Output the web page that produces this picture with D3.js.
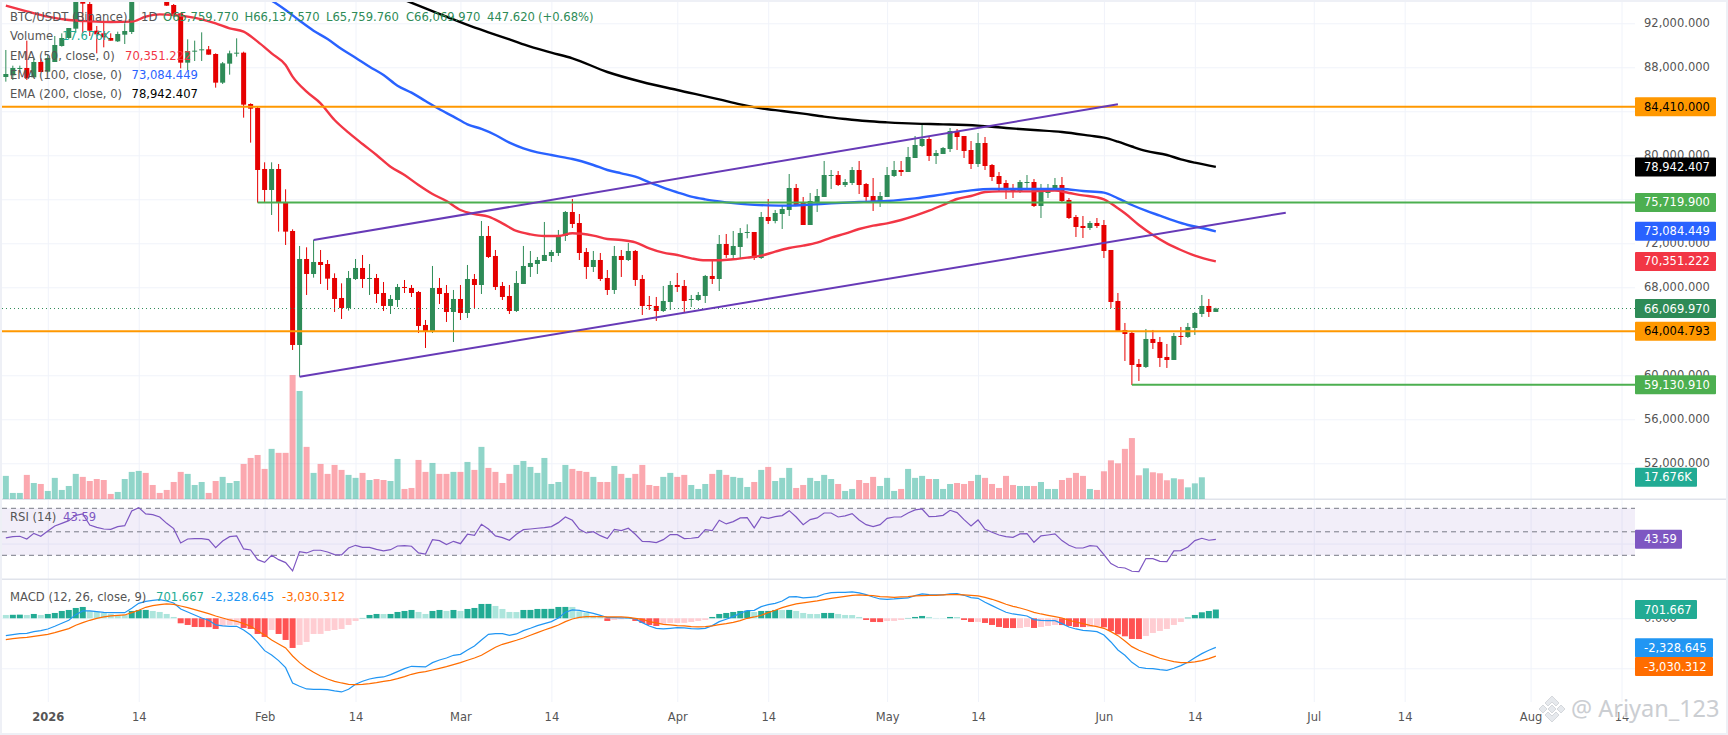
<!DOCTYPE html>
<html>
<head>
<meta charset="utf-8">
<script src="https://cdn.jsdelivr.net/npm/d3@7"></script>
<style>
  html, body { margin: 0; padding: 0; background: #eef0f6; overflow: hidden; }
  svg { display: block; font-family: "DejaVu Sans", sans-serif; }
  .tick text { fill: #555; font-size: 11.5px; font-family: "DejaVu Sans", sans-serif; }
  .tick line { stroke: #f0f3fa; }
  .domain { display: none; }
</style>
</head>
<body>
<svg id="chart"></svg>
<script>
const width = 1728
const height = 735

// daily candles, first one is 26 Dec 2025 (rows of ten)
const opens = [
  87119,87270,87876,87937,87088,88482,87603,88482,89937,90664,
  91512,93936,93754,91330,91088,90664,90361,90967,91209,94100,
  96400,95500,95300,93997,93664,92906,88422,89421,89573,89634,
  89209,86604,88331,89240,89330,84664,84301,78756,76847,78756,
  75756,73119,62757,70574,69210,70301,70119,68847,67029,66120,
  68756,69756,68786,68847,67483,66302,66847,68029,67938,67574,
  64574,63938,67938,67483,65756,66938,65665,68756,68210,72665,
  70847,68120,67211,65847,68301,69847,70119,70392,70847,71119,
  72665,74846,73846,71210,69846,70483,68847,67756,70847,70483,
  71301,68756,66392,66302,65847,66665,68210,68120,66847,66847,
  67211,69029,68756,71937,70938,71665,72968,73028,70665,74392,
  74028,74664,75028,77028,75664,73664,75755,76210,78118,78209,
  77300,77482,78664,77391,76300,75664,76210,78118,78664,78482,
  79755,80846,81482,79937,80118,80573,82209,81755,80482,79209,
  81118,79118,78118,77482,77028,76755,77482,77573,75392,76573,
  76937,77300,75937,74392,73574,73392,73846,73664,71392,66756,
  64120,63847,61029,60757,63302,63029,61666,61393,63575,63484,
  64302,65575,66302,65759.77
]
const highs = [
  89573,88149,88149,90421,88815,88815,89118,90846,91088,91573,
  94057,94400,94300,91755,92148,91088,91240,91997,94600,97200,
  97000,96000,95600,94200,93754,92906,90543,90421,91179,89937,
  89270,88482,89512,90633,89420,84724,84420,79362,79362,79210,
  76908,73271,71756,71634,72301,71392,70483,69271,68362,69483,
  70574,70938,70119,69210,68483,67302,68301,68665,68210,67665,
  65029,69938,68847,68210,67756,68210,70029,69210,74028,73574,
  71392,68483,68210,69483,71756,71301,70756,73937,71392,73210,
  74937,76028,74664,71574,71301,71119,69574,71756,71392,72028,
  71392,69120,67211,67120,68120,68574,69301,68665,67302,67574,
  69120,70392,72755,72846,73119,73392,73725,73028,74846,76028,
  75028,75482,78300,77391,76210,76573,76937,79482,78664,78573,
  77846,78937,79482,77482,77937,76664,78937,79482,79482,80755,
  81755,82845,81664,80482,80755,82482,82391,81755,81300,82027,
  81664,79209,78482,77755,77391,77755,78209,77846,77391,77391,
  77937,78028,76119,74573,74483,74028,74300,74119,71392,67483,
  64756,63938,61484,64211,64120,63484,62847,63847,64393,64756,
  65756,67302,66938,66137.57
]
const lows = [
  86694,86846,87513,86846,87088,87573,87543,88482,89876,90543,
  91149,91088,90846,89270,89815,90421,90300,90118,91027,94050,
  95200,95100,94600,93573,92754,87906,87755,88573,88573,89149,
  86149,86482,87331,88967,83422,81150,75696,75696,74574,73060,
  71848,62302,59878,67302,68877,68301,67756,65756,65120,65877,
  68665,67938,67302,66574,65847,65574,66211,67483,67120,63847,
  62484,63847,66484,64847,63029,65029,65211,66120,67392,70665,
  67756,66847,65574,65756,68301,68938,69210,70392,70301,70847,
  72210,73392,70483,68756,69392,68574,67302,67392,68938,70392,
  68120,65484,65938,64938,65756,65938,67574,65665,66211,66756,
  66574,68301,67665,70665,70483,70574,72452,70483,70574,73755,
  73816,73301,74483,75392,73664,73664,74846,76210,76937,77210,
  77119,77300,76482,75664,74937,75300,76210,78028,78118,78482,
  79755,80755,79482,79209,80118,80300,80482,79755,78755,78937,
  78664,77664,76755,76028,76119,76573,76846,75300,74300,76119,
  76846,75664,74210,72574,72483,73210,73392,70665,66120,64029,
  61302,59120,59484,60666,62393,60757,60666,61393,62757,63393,
  63666,65302,65302,65759.76
]
const closes = [
  87391,87937,87937,87028,88482,87573,88846,90027,90664,91573,
  93936,93785,91330,90997,90724,90421,91027,91300,93997,96400,
  95500,95300,94900,93603,92754,88422,89482,89512,89634,89149,
  86604,88361,89270,89330,84604,84240,78665,76847,78756,75665,
  73060,62757,70574,69210,70301,70028,68786,66938,66120,68847,
  69756,68756,68847,67392,66302,66938,68029,67938,67483,64484,
  63938,67938,67392,65756,66938,65665,68756,68210,72665,70756,
  68029,67120,65847,68392,69938,70210,70483,70938,71210,72755,
  74846,73755,71119,69846,70483,68756,67756,70847,70483,71301,
  68665,66302,66302,65847,66756,68210,68029,66756,66938,67302,
  69029,68756,71937,70938,71756,72937,73028,70665,74392,74028,
  74755,75119,77028,75482,73664,75846,76300,78209,78209,77300,
  77573,78664,77300,76210,75664,76300,78209,78664,78482,79846,
  80936,81482,79937,80209,80664,82209,81664,80391,79209,81118,
  79028,78028,77391,76846,76755,77573,77573,75392,76664,77028,
  77300,75846,74300,73483,73392,73846,73574,71301,66665,64029,
  63756,60938,60757,63302,62938,61575,61393,63575,63484,64393,
  65666,66302,65760,66069.97
]
// volume in thousands, stops two days before the last candle like the source
const volumes = [
  18.8,5.1,5.1,19.6,13.1,12.3,6.7,17.2,7.5,10.7,
  20.4,18,14.7,16.3,15.5,4.3,5.9,16.3,22,22.8,
  21.2,11.5,5.1,7.5,13.9,22,20.4,11.5,13.9,5.1,
  14.7,18,13.1,14.7,28.4,33.2,35.6,24.4,40.5,37.3,
  37.3,99.8,87,42.1,21.2,28.4,20.4,27.6,23.6,19.6,
  17.2,21.2,15.5,16.3,15.5,14.7,32.4,8.3,9.1,31.6,
  22,29.2,20.4,20.4,22,22,30,23.6,42.1,25.2,
  22,13.1,20.4,27.6,30.8,26,21.2,33.2,12.3,13.9,
  27.6,24.4,22.8,22,18,13.9,13.9,26.8,20.4,17.2,
  20.4,27.6,11.5,10.7,18,21.2,18,19.6,11.5,8.3,
  12.3,20.4,23.6,19.6,18,17.2,9.9,13.9,23.6,26,
  14.7,17.2,25.2,9.1,11.5,17.2,14.7,19.6,16.3,12.3,
  6.7,8.3,15.5,13.1,18,10.7,17.2,6.7,8.3,24.4,
  17.2,18.8,16.3,16.3,8.3,12.3,13.1,12.3,14.7,19.6,
  17.2,12.3,9.1,18.8,11.5,10.7,10.7,10.7,13.9,8.3,
  8.3,15.5,17.2,21.2,18.8,8.3,7.5,22.5,31.3,28.9,
  40.5,49.2,19.3,24.9,21.7,20.9,15.3,16.9,16.1,9.6,
  12.8,17.676
]
const rsi = [
  44.8,45.9,46.2,43.9,48.7,46.2,50.7,55,57.2,59.5,
  64,65.2,55.8,53.8,52.4,52.1,54.4,55.2,67.7,70.6,
  65.2,64.6,62.6,57.2,52.7,40.5,43.9,44.2,44.2,43.3,
  36.5,42.2,45.9,46.5,35.4,34.5,26.3,24,30,26.3,
  23.8,16.7,33.1,32,34.3,34.3,32.8,30.6,30.3,36.2,
  38.5,36.8,36.8,35.1,33.7,34.8,37.9,38.2,37.7,32,
  31.1,43.3,42.5,39.1,41.9,39.9,47.9,47,56.4,52.4,
  46.5,45,42.8,47.9,51.8,52.4,53,53.5,54.4,57.8,
  62.6,59.8,52.1,49,50.1,46.7,44.2,52.1,51,53,
  47.9,41.9,41.6,40.8,43.3,47.6,47.6,44.2,44.5,45.3,
  51.8,51,59.8,56.7,58.7,61.8,62.1,53.3,62.6,61.5,
  62.9,63.8,68,62.6,56.1,60.4,61.8,66,66,62.6,
  63.5,65.5,60.1,56.1,54.4,56.1,61.5,62.6,62.6,66,
  68.6,69.4,62.9,63.2,64,68.3,66.3,60.4,55,60.1,
  52.1,49.6,47.3,45.9,45.3,48.2,48.4,41.1,46.5,47.3,
  48.2,42.5,38.5,36.2,36.2,38.2,37.7,30.6,22.9,19.8,
  19.2,16.4,16.1,27.2,27.2,24.9,24.6,33.7,34,37.1,
  42.5,44.5,42.8,43.59
]
const macdLine = [
  -1387,-1307,-1227,-1200,-1067,-987,-853,-640,-400,-160,
  293,587,587,533,480,453,453,453,800,1200,
  1360,1440,1493,1387,1227,747,507,267,27,-160,
  -533,-613,-640,-640,-933,-1333,-1920,-2587,-2933,-3387,
  -3947,-5173,-5440,-5653,-5680,-5680,-5707,-5813,-5893,-5680,
  -5280,-5040,-4853,-4747,-4693,-4507,-4267,-4027,-3840,-3867,
  -3893,-3547,-3333,-3173,-2960,-2880,-2533,-2213,-1733,-1280,
  -1227,-1227,-1360,-1253,-987,-800,-587,-427,-267,27,
  480,667,640,507,400,240,53,53,27,27,
  -53,-347,-613,-800,-853,-800,-747,-773,-827,-853,
  -800,-587,-267,-80,133,400,613,640,933,1093,
  1200,1387,1707,1733,1627,1680,1733,1947,2053,2080,
  2080,2107,2027,1893,1707,1547,1520,1547,1600,1627,
  1813,1947,1893,1867,1867,1947,1973,1840,1653,1600,
  1280,1013,747,480,347,267,187,-107,-160,-187,
  -187,-427,-693,-853,-960,-1013,-1067,-1333,-1893,-2533,
  -2960,-3520,-3920,-4000,-4027,-4107,-4160,-4000,-3787,-3520,
  -3147,-2827,-2560,-2328.645
]
const signalLine = [
  -1707,-1627,-1573,-1520,-1440,-1360,-1280,-1147,-987,-827,
  -560,-347,-160,0,107,187,240,267,453,640,
  880,1013,1093,1147,1120,987,853,693,533,373,
  187,27,-133,-240,-427,-640,-987,-1333,-1733,-2053,
  -2373,-3013,-3547,-3973,-4320,-4613,-4853,-5040,-5173,-5280,
  -5307,-5280,-5227,-5147,-5040,-4960,-4827,-4667,-4480,-4347,
  -4267,-4133,-4000,-3867,-3707,-3547,-3360,-3173,-2960,-2640,
  -2320,-2080,-1920,-1760,-1573,-1360,-1147,-933,-747,-533,
  -267,-53,80,133,133,133,107,107,107,80,
  0,-80,-267,-373,-480,-533,-587,-613,-667,-693,
  -667,-613,-507,-427,-320,-187,0,107,240,453,
  640,853,1013,1147,1227,1307,1387,1493,1600,1680,
  1760,1840,1867,1840,1813,1733,1707,1680,1707,1733,
  1787,1813,1840,1840,1867,1893,1893,1867,1840,1787,
  1680,1520,1333,1120,960,827,667,480,347,240,
  133,27,-160,-293,-427,-560,-667,-800,-1067,-1387,
  -1813,-2267,-2560,-2773,-2987,-3200,-3333,-3467,-3547,-3547,
  -3493,-3387,-3227,-3030.312
]
const macdHist = [
  267,280,293,267,347,267,347,427,587,667,
  827,907,587,507,427,347,267,260,587,667,
  670,587,507,347,107,-400,-533,-693,-700,-710,
  -853,-613,-533,-530,-773,-853,-1253,-1493,-933,-1253,
  -1733,-2373,-2133,-1893,-1253,-1250,-1013,-933,-853,-533,
  -213,27,267,347,340,347,507,587,667,507,
  347,587,667,587,667,587,747,827,1147,1150,
  987,747,507,500,667,670,747,750,755,907,
  910,907,560,453,213,133,-213,-133,-80,80,
  -213,-373,-533,-613,-453,-373,-370,-365,-293,-213,
  -133,107,347,427,507,587,613,507,587,590,
  667,660,670,587,427,347,340,427,430,347,
  267,260,107,-133,-293,-300,-213,-210,-133,27,
  107,187,107,27,20,107,100,-133,-293,-290,
  -373,-533,-693,-773,-780,-775,-693,-773,-693,-613,
  -533,-540,-613,-693,-700,-695,-613,-720,-1013,-1280,
  -1440,-1653,-1660,-1413,-1173,-1013,-853,-533,-293,53,
  267,480,587,701.667
]

// moving averages at these days counted from 1 Jan 2026
const ema50Days = [-6,-3,0,3,6,9,12,14,16,18,20,22,24,26,28,30,32,34,35,37,39,41,43,45,47,49,51,53,55,57,59,61,63,65,67,69,71,73,75,78,80,82,84,86,88,90,92,94,96,98,100,102,104,106,108,110,112,114,116,118,120,122,124,126,128,130,132,134,136,138,140,142,144,146,148,150,151,153,154,156,158,160,162,164,167]
const ema50 = [93603,93088,92603,92300,92179,92118,92148,92603,92815,92754,92603,92361,91997,91542,91240,90330,89270,88209,87149,85785,84725,83210,82059,81028,80028,78968,78210,77300,76483,75846,75029,74665,74423,73816,73120,72817,72665,72665,72907,72695,72392,72301,72089,71543,71150,70937,70634,70453,70453,70544,70695,70877,71240,71574,71786,72059,72513,72877,73301,73604,73816,74119,74513,74967,75482,76028,76300,76664,76725,76725,76725,76755,76785,76574,76361,76180,75998,75180,74725,73664,72755,71998,71392,70877,70351.222]
const ema100Days = [26,30,32,34,36,38,40,42,44,46,48,50,52,54,56,58,60,62,64,66,68,70,72,74,75,78,80,82,84,86,88,90,92,94,96,98,100,103,106,109,112,116,120,124,128,132,135,140,145,148,151,153,155,157,159,161,163,165,167]
const ema100 = [95900,94664,94057,93209,92239,91330,90573,89664,88876,88058,87300,86331,85695,84937,84180,83513,82816,82392,81846,81150,80634,80271,80028,79786,79664,79118,78664,78361,78058,77543,77058,76634,76240,75998,75816,75664,75543,75452,75422,75513,75634,75755,75846,76089,76452,76816,76937,76937,76937,76755,76604,76088,75482,74967,74513,74058,73665,73392,73084.449]
const ema200Days = [45,51,54,57,60,63,66,69,72,75,80,85,90,96,99,102,105,108,111,114,117,120,124,128,133,137,141,145,149,151,153,155,157,160,162,164,167]
const ema200 = [95633,94118,93360,92603,91846,91179,90543,89876,89330,88815,87573,86664,85936,85088,84633,84270,84027,83785,83512,83300,83118,82997,82876,82815,82694,82482,82300,82118,81785,81603,81240,80800,80400,80027,79634,79330,78942.407]

// drawn levels: price and the day they start from
const levelPrices = [84410, 75719.9, 64004.793, 59130.91]
const levelStart = [-6, 30, -6, 155]
const levelColors = ["#ff9800", "#4caf50", "#ff9800", "#4caf50"]
// channel lines as [day, price] anchors
const channelTop = [[38, 72300], [153, 84636]]
const channelBottom = [[36, 59878], [177, 74782]]

const priceTicks = [92000, 88000, 84000, 80000, 76000, 72000, 68000, 64000, 60000, 56000, 52000]
const macdTicks = [0, -4000]
const rsiLevels = [70, 50, 30]
const timeTicks = ["2026-01-01","2026-01-14","2026-02-01","2026-02-14","2026-03-01","2026-03-14","2026-04-01","2026-04-14","2026-05-01","2026-05-14","2026-06-01","2026-06-14","2026-07-01","2026-07-14","2026-08-01","2026-08-14"]
const timeLabels = ["2026","14","Feb","14","Mar","14","Apr","14","May","14","Jun","14","Jul","14","Aug","14"]

const green = "#2e8b57", red = "#e60000"
const left = 2, axisX = 1635, right = 1726

const svg = d3.select("#chart").attr("width", width).attr("height", height)
svg.append("rect").attr("x", left).attr("y", 2).attr("width", right - left).attr("height", 731).attr("fill", "#fff")

const defs = svg.append("defs")
defs.append("clipPath").attr("id", "mainClip").append("rect")
    .attr("x", left).attr("y", 2).attr("width", axisX - left).attr("height", 497)

const dayOne = Date.UTC(2026, 0, 1)
const dayDate = d => new Date(dayOne + d * 864e5)

const x = d3.scaleUtc()
    .domain([new Date("2026-01-01"), new Date("2026-08-14")])
    .range([47.8, 1621.5])
const y = d3.scaleLinear().domain([92000, 52000]).range([23.3, 463.3])
const yVol = d3.scaleLinear().domain([0, 100]).range([499.3, 374.8])
const yRsi = d3.scaleLinear().domain([70, 30]).range([508.3, 555.3])
const yMacd = d3.scaleLinear().domain([0, -4000]).range([618.3, 668.3])

const dx = i => x(dayDate(i - 6)) // candle index to pixel

// d3 format gives a real minus sign, the chart uses a hyphen
const fmt = v => d3.format(",.3f")(v).replace("\u2212", "-")

// time axis doubles as the vertical grid
const timeAxis = svg.append("g").attr("transform", "translate(0,702)")
    .call(d3.axisBottom(x)
        .tickValues(timeTicks.map(d => new Date(d)))
        .tickFormat((d, i) => timeLabels[i])
        .tickSize(-700).tickPadding(10))
timeAxis.selectAll(".tick text").filter((d, i) => i === 0)
    .style("font-weight", "bold").style("font-size", "11.5px")
timeAxis.selectAll(".tick text").attr("y", 11)

svg.append("g").attr("transform", `translate(${axisX},0)`)
    .call(d3.axisRight(y).tickValues(priceTicks).tickFormat(fmt)
        .tickSize(-(axisX - left)).tickPadding(9))
svg.append("g").attr("transform", `translate(${axisX},0)`)
    .call(d3.axisRight(yRsi).tickValues([40]).tickFormat("").tickSize(-(axisX - left)))
svg.append("g").attr("transform", `translate(${axisX},0)`)
    .call(d3.axisRight(yMacd).tickValues(macdTicks).tickFormat(fmt)
        .tickSize(-(axisX - left)).tickPadding(9))

// pane separators
svg.selectAll(".sep").data([499.3, 579.3]).enter().append("line")
    .attr("x1", left).attr("x2", right).attr("y1", d => d).attr("y2", d => d)
    .attr("stroke", "#e0e3eb").attr("stroke-width", 1.5)

const main = svg.append("g").attr("clip-path", "url(#mainClip)")
const candles = d3.range(closes.length)

main.selectAll(".vol").data(volumes).enter().append("rect")
    .attr("x", (d, i) => dx(i) - 3)
    .attr("width", 6)
    .attr("y", d => yVol(d))
    .attr("height", d => yVol(0) - yVol(d))
    .attr("fill", (d, i) => closes[i] >= opens[i] ? "rgba(34,171,148,0.5)" : "rgba(247,82,95,0.5)")

main.selectAll(".wick").data(candles).enter().append("line")
    .attr("x1", i => dx(i)).attr("x2", i => dx(i))
    .attr("y1", i => y(highs[i])).attr("y2", i => y(lows[i]))
    .attr("stroke", i => closes[i] >= opens[i] ? green : red)
    .attr("stroke-width", 1)

main.selectAll(".body").data(candles).enter().append("rect")
    .attr("x", i => dx(i) - 2.5)
    .attr("width", 5)
    .attr("y", i => y(Math.max(opens[i], closes[i])))
    .attr("height", i => Math.max(1, Math.abs(y(opens[i]) - y(closes[i]))))
    .attr("fill", i => closes[i] >= opens[i] ? green : red)

const emaLine = d3.line()
    .x(d => x(dayDate(d[0]))).y(d => y(d[1]))
    .curve(d3.curveMonotoneX)

function drawEma(days, values, color) {
    main.append("path")
        .attr("d", emaLine(days.map((d, i) => [d, values[i]])))
        .attr("fill", "none").attr("stroke", color).attr("stroke-width", 2.4)
}
drawEma(ema50Days, ema50, "#f23645")
drawEma(ema100Days, ema100, "#2962ff")
drawEma(ema200Days, ema200, "#000000")

// last price dotted line
svg.append("line").attr("x1", left).attr("x2", axisX)
    .attr("y1", y(66069.97)).attr("y2", y(66069.97))
    .attr("stroke", green).attr("stroke-width", 1).attr("stroke-dasharray", "1 3")

levelPrices.forEach(function(p, i) {
    svg.append("line")
        .attr("x1", levelStart[i] === -6 ? left : x(dayDate(levelStart[i])))
        .attr("x2", axisX)
        .attr("y1", y(p)).attr("y2", y(p))
        .attr("stroke", levelColors[i]).attr("stroke-width", 2)
})

;[channelTop, channelBottom].forEach(function(c) {
    svg.append("line")
        .attr("x1", x(dayDate(c[0][0]))).attr("y1", y(c[0][1]))
        .attr("x2", x(dayDate(c[1][0]))).attr("y2", y(c[1][1]))
        .attr("stroke", "#673ab7").attr("stroke-width", 2)
})

// RSI pane
svg.append("rect").attr("x", left).attr("width", axisX - left)
    .attr("y", yRsi(70)).attr("height", yRsi(30) - yRsi(70))
    .attr("fill", "#7e57c2").attr("fill-opacity", 0.1)
svg.selectAll(".rsiLevel").data(rsiLevels).enter().append("line")
    .attr("x1", left).attr("x2", axisX)
    .attr("y1", d => yRsi(d)).attr("y2", d => yRsi(d))
    .attr("stroke", "#787b86").attr("stroke-width", 1).attr("stroke-dasharray", "5 4")
svg.append("path")
    .attr("d", d3.line().x((d, i) => dx(i)).y(d => yRsi(d))(rsi))
    .attr("fill", "none").attr("stroke", "#7e57c2").attr("stroke-width", 1.2)

// MACD pane
function histColor(v, i) {
    const prev = i > 0 ? macdHist[i - 1] : v
    if (v >= 0) return (i > 0 && v >= prev) ? "#22ab94" : "#ace5dc"
    return v <= prev ? "#ff5252" : "#ffcdd2"
}
svg.selectAll(".hist").data(macdHist).enter().append("rect")
    .attr("x", (d, i) => dx(i) - 3)
    .attr("width", 6)
    .attr("y", d => Math.min(yMacd(d), yMacd(0)))
    .attr("height", d => Math.abs(yMacd(d) - yMacd(0)))
    .attr("fill", histColor)
svg.append("path")
    .attr("d", d3.line().x((d, i) => dx(i)).y(d => yMacd(d))(macdLine))
    .attr("fill", "none").attr("stroke", "#2196f3").attr("stroke-width", 1.2)
svg.append("path")
    .attr("d", d3.line().x((d, i) => dx(i)).y(d => yMacd(d))(signalLine))
    .attr("fill", "none").attr("stroke", "#ff6d00").attr("stroke-width", 1.2)

// axis price labels
function priceLabel(cy, text, bg, fg, w) {
    svg.append("rect").attr("x", axisX).attr("y", cy - 9.5)
        .attr("width", w).attr("height", 19).attr("rx", 1).attr("fill", bg)
    svg.append("text").attr("x", axisX + 9).attr("y", cy + 0.5)
        .attr("dominant-baseline", "middle")
        .attr("font-size", "11.5px").attr("fill", fg).text(text)
}
priceLabel(y(84410), fmt(84410), "#ff9800", "#000", 81)
priceLabel(y(78942.407), fmt(78942.407), "#000", "#fff", 81)
priceLabel(y(75719.9), fmt(75719.9), "#4caf50", "#fff", 81)
priceLabel(y(73084.449), fmt(73084.449), "#2962ff", "#fff", 81)
priceLabel(y(70351.222), fmt(70351.222), "#f23645", "#fff", 81)
priceLabel(y(66069.97), fmt(66069.97), green, "#fff", 81)
priceLabel(y(64004.793), fmt(64004.793), "#ff9800", "#000", 81)
priceLabel(y(59130.91), fmt(59130.91), "#4caf50", "#fff", 81)
priceLabel(477.3, "17.676K", "#22ab94", "#fff", 62)
priceLabel(yRsi(43.59), "43.59", "#7e57c2", "#fff", 47)
priceLabel(yMacd(701.667), fmt(701.667), "#22ab94", "#fff", 62)
priceLabel(647.7, fmt(-2328.645), "#2196f3", "#fff", 78)
priceLabel(666.5, fmt(-3030.312), "#ff6d00", "#fff", 78)

// legend
function legend(px, py, text, color) {
    svg.append("text").attr("x", px).attr("y", py).attr("dominant-baseline", "middle")
        .attr("font-size", "11.6px").attr("fill", color).text(text)
}
const gray = "#555"
legend(10, 17.5, "BTC/USDT (Binance),", gray)
legend(141, 17.5, "1D", gray)
legend(163, 17.5, "O65,759.770", green)
legend(244.5, 17.5, "H66,137.570", green)
legend(326, 17.5, "L65,759.760", green)
legend(406, 17.5, "C66,069.970", green)
legend(487, 17.5, "447.620", green)
legend(538, 17.5, "(+0.68%)", green)
legend(10, 36.5, "Volume", gray)
legend(62, 36.5, "17.676K", "#22ab94")
legend(10, 56, "EMA (50, close, 0)", gray)
legend(125, 56, "70,351.222", "#f23645")
legend(10, 75, "EMA (100, close, 0)", gray)
legend(131.5, 75, "73,084.449", "#2962ff")
legend(10, 94, "EMA (200, close, 0)", gray)
legend(131.5, 94, "78,942.407", "#000")
legend(10, 517, "RSI (14)", gray)
legend(63, 517, "43.59", "#7e57c2")
legend(10, 597, "MACD (12, 26, close, 9)", gray)
legend(156, 597, "701.667", "#22ab94")
legend(211, 597, "-2,328.645", "#2196f3")
legend(282, 597, "-3,030.312", "#ff6d00")

// watermark
const mark = svg.append("g").attr("opacity", 0.9)
const logo = mark.append("g").attr("transform", "translate(1552,709)")
    .attr("fill", "#e4e7ec").attr("stroke", "#c9ccd2").attr("stroke-width", 0.8)
logo.append("path").attr("d", "M0,-13 L7,-6 L4,-3 L0,-7 L-4,-3 L-7,-6Z")
logo.append("path").attr("d", "M0,13 L7,6 L4,3 L0,7 L-4,3 L-7,6Z")
logo.append("path").attr("d", "M-13,0 L-9,-4 L-5,0 L-9,4Z")
logo.append("path").attr("d", "M13,0 L9,-4 L5,0 L9,4Z")
logo.append("path").attr("d", "M0,-4 L4,0 L0,4 L-4,0Z")
mark.append("text").attr("x", 1571).attr("y", 717)
    .attr("font-family", "'Noto Sans', sans-serif").attr("font-size", "23.5px")
    .attr("fill", "#c6c9ce").attr("stroke", "#fff").attr("stroke-width", 2)
    .attr("paint-order", "stroke")
    .text("@ Ariyan_123")
</script>
</body>
</html>
